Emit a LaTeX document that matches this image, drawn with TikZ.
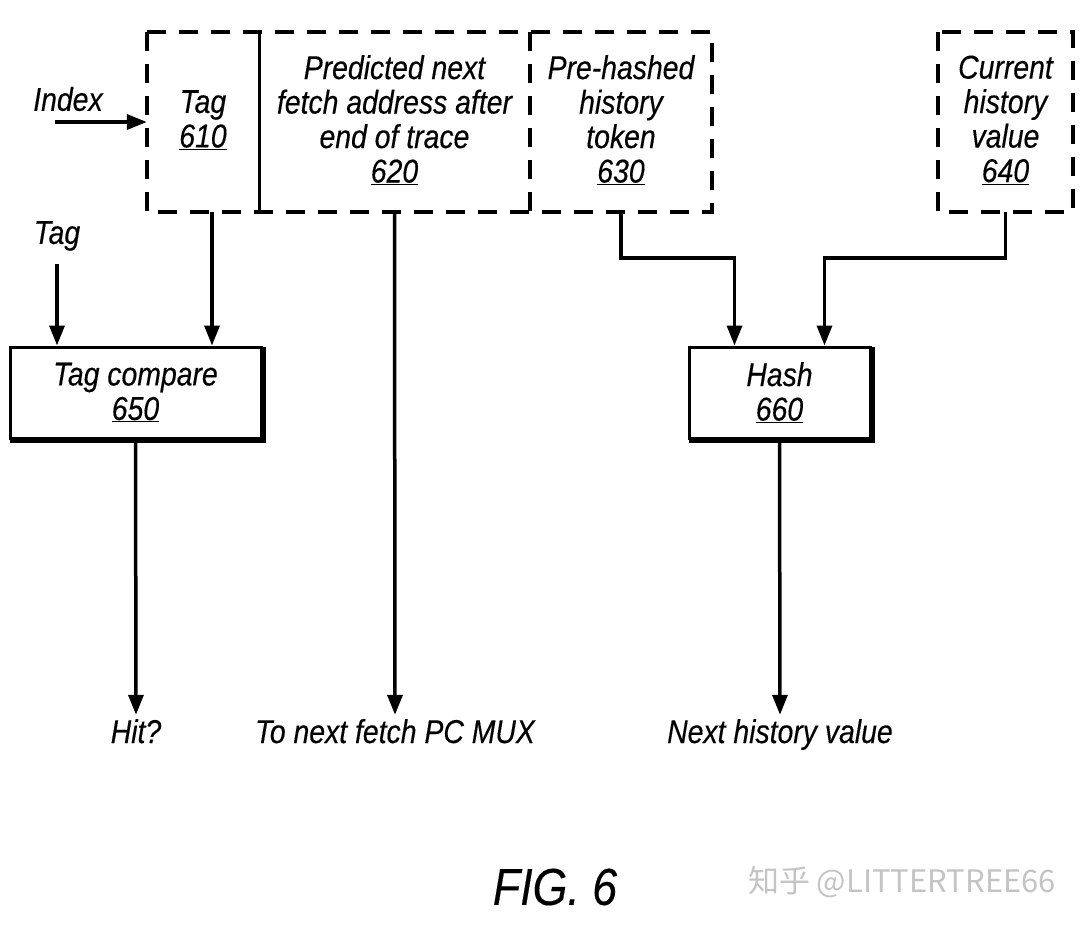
\documentclass[tikz,border=0pt]{standalone}
\usepackage{fontspec}
\setmainfont{Liberation Sans}[FakeStretch=0.86, FakeBold=0.3]
\newfontfamily\cjk{Noto Sans CJK SC}
\usetikzlibrary{arrows.meta}
\definecolor{mark}{RGB}{196, 196, 196}

\begin{document}
\begin{tikzpicture}[
   x=1pt, y=-1pt,
   >={Triangle[length=20pt, width=15pt]},
   txt/.style={font=\fontsize{33}{34.5}\selectfont\itshape, align=center,
               inner sep=1pt},
   field/.style={txt, minimum height=180pt, inner sep=0},
   outlbl/.style={txt, text height=24pt, text depth=0pt, inner sep=4pt},
   dashbox/.style={line width=3.5pt, dash pattern=on 19pt off 13pt},
   block/.style={txt, draw, line width=3pt, minimum height=91pt},
   wire/.style={line width=3.5pt}
  ]

  \useasboundingbox (0, 0) rectangle (1090, 926);

  % Entry fields
  \node (f610) at (203, 120) [field, minimum width=112pt] {Tag\\\underline{610}};
  \node (f620) at (394.5, 120) [field, minimum width=271pt]
    {Predicted next\\fetch address after\\end of trace\\\underline{620}};
  \node (f630) at (621, 120) [field, minimum width=182pt]
    {Pre-hashed\\history\\token\\\underline{630}};
  \node (f640) at (1005.5, 120) [field, minimum width=135pt]
    {Current\\history\\value\\\underline{640}};

  \draw[dashbox] ([yshift=-2pt]f610.north west) rectangle ([yshift=-2pt]f630.south east);
  \draw[dashbox] ([yshift=-2pt]f630.north west) -- ([yshift=-2pt]f630.south west);
  \draw[line width=3pt] ([yshift=-2pt]f610.north east) -- ([yshift=-2pt]f610.south east);
  \draw[dashbox] ([yshift=-2pt]f640.north west) rectangle ([yshift=-2pt]f640.south east);

  % Logic blocks
  \node (cmp) at (135.5, 392.5) [block, minimum width=251pt] {Tag compare\\\underline{650}};
  \node (hash) at (779.5, 392.5) [block, minimum width=181pt] {Hash\\\underline{660}};

  \foreach \N in {cmp, hash} {
    \draw[line width=3pt] ([shift={(1.5, 1.5)}]\N.north east) |- ([shift={(1.5, 1.5)}]\N.south west);
  }

  % Inputs and outputs
  \node (idx) at (68, 99) [txt] {Index};
  \coordinate (idxin) at (55, 122);
  \node (tagin) at (57, 236) [txt] {Tag};

  \node (hit) at (136, 731) [outlbl] {Hit?};
  \node (pcmux) at (395, 731) [outlbl] {To next fetch PC MUX};
  \node (nexthist) at (780, 731) [outlbl] {Next history value};

  \draw[wire, ->] (idxin) -- (idxin -| f610.west);
  \draw[wire, ->] ([yshift=-12pt]tagin.south) -- (tagin.south |- cmp.north);
  \draw[wire, ->] ([shift={(9pt, -2pt)}]f610.south) -- ([xshift=9pt]f610.south |- cmp.north);
  \draw[wire, ->] ([yshift=-2pt]f620.south) -- (pcmux.north);
  \draw[wire, ->] ([yshift=-2pt]f630.south) -- ++(0, 46) -| ([xshift=-45pt]hash.north);
  \draw[wire, ->] ([yshift=-2pt]f640.south) -- ++(0, 46) -| ([xshift=45pt]hash.north);

  \foreach \B/\E in {cmp/hit, hash/nexthist} {
    \draw[wire, ->] (\B.south) -- (\E.north);
  }

  % Caption
  \node (fig) at (555, 887) [font=\fontsize{52}{56}\selectfont\itshape] {FIG. 6};
  \node (wmark) at (902, 882) [font=\cjk\fontsize{31}{33}\selectfont, text=mark] {知乎 @LITTERTREE66};

\end{tikzpicture}
\end{document}
